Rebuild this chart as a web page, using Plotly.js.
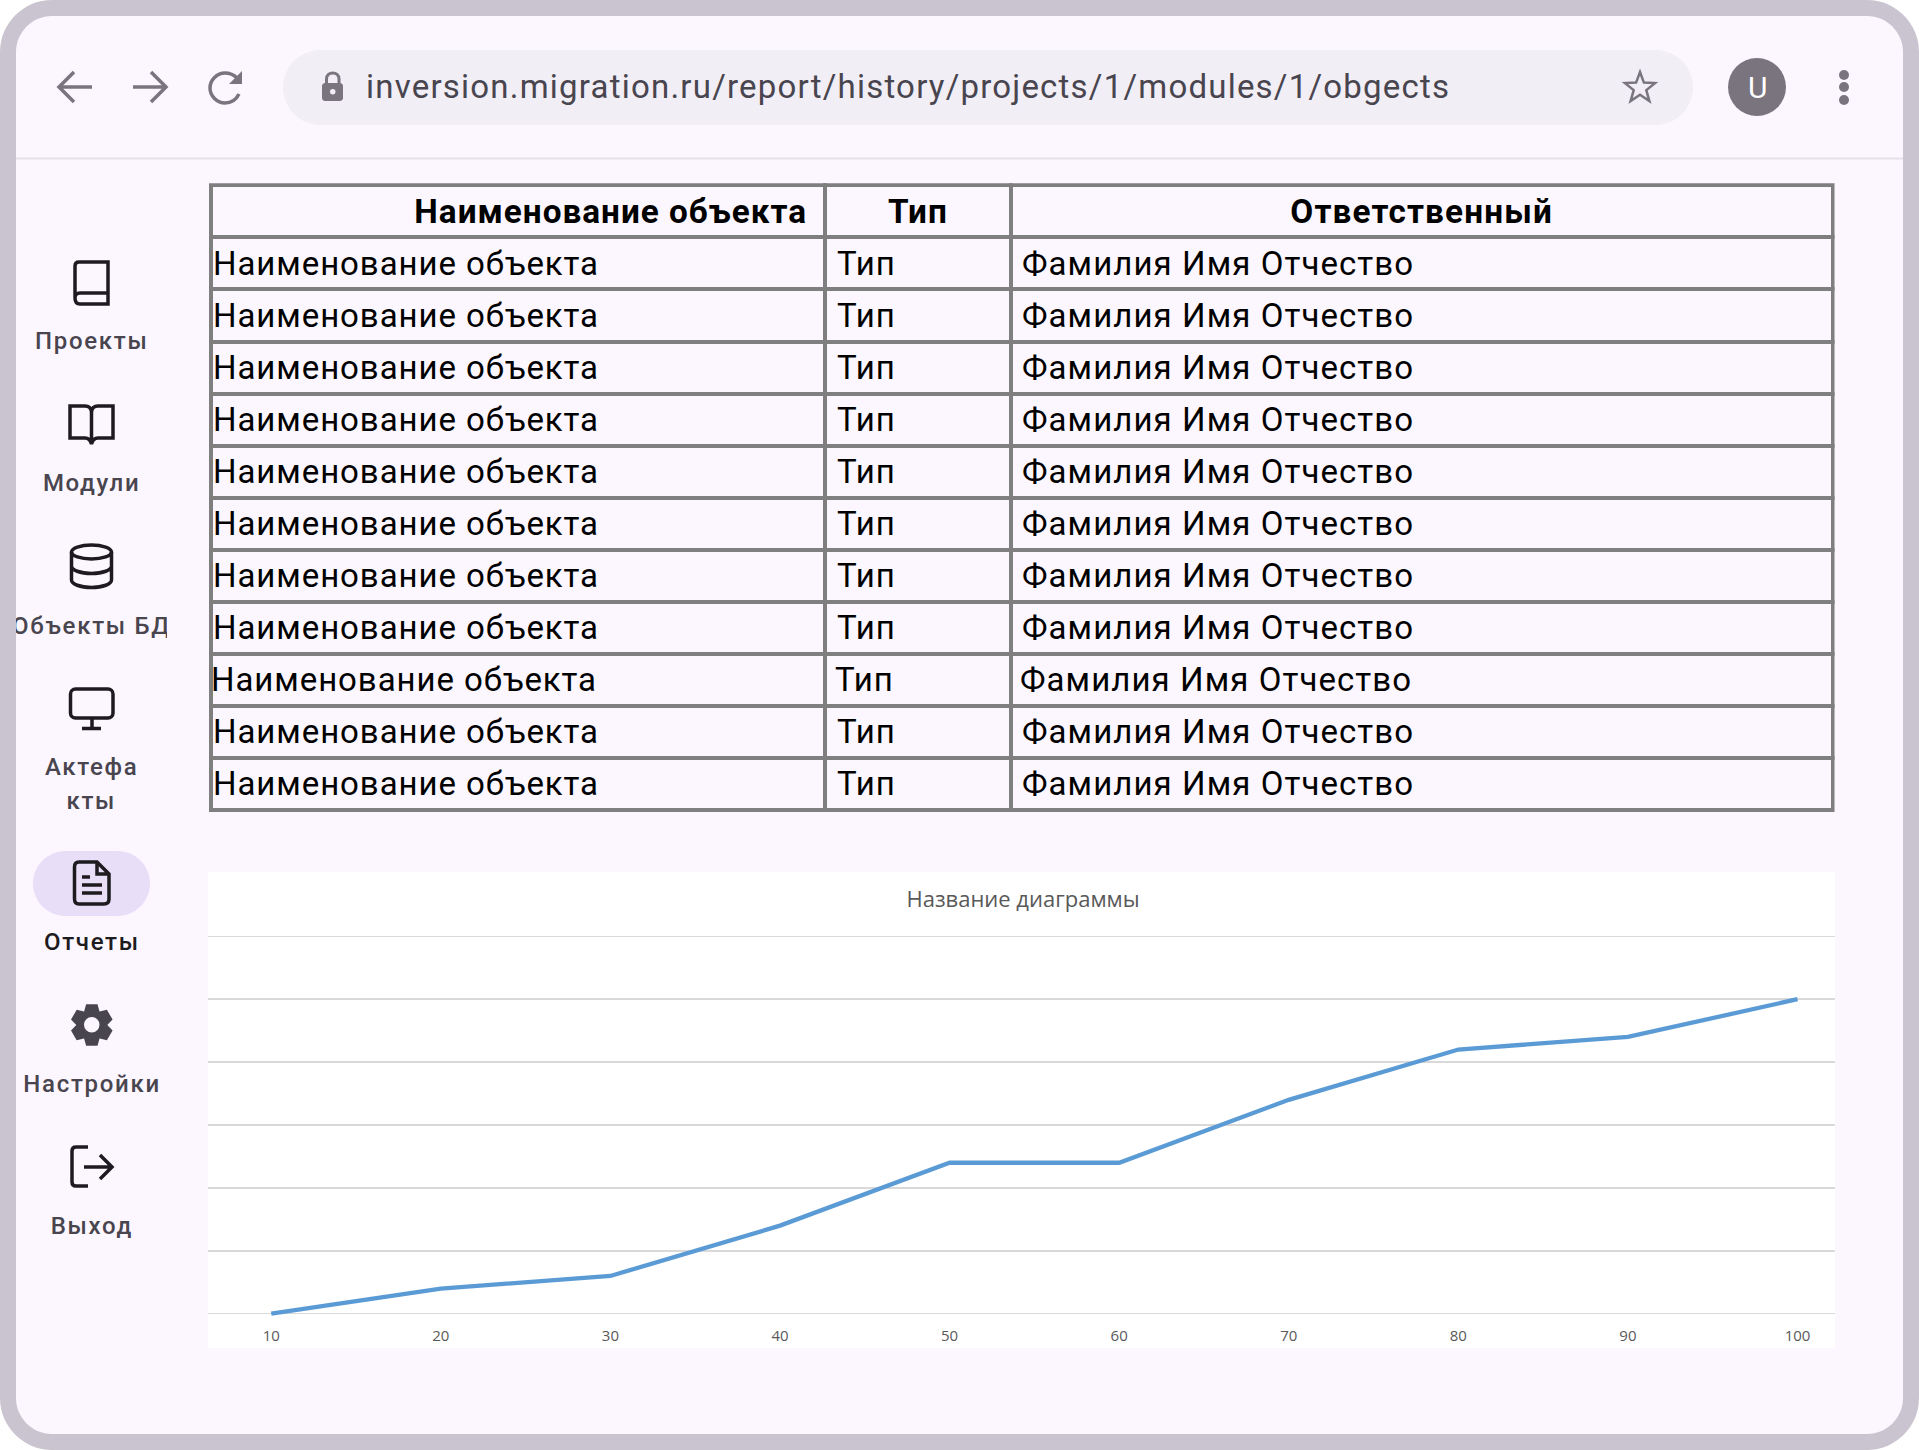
<!DOCTYPE html>
<html><head><meta charset="utf-8">
<script src="https://cdn.plot.ly/plotly-3.0.1.min.js"></script>
<style>
html,body{margin:0;padding:0;background:#fff;overflow:hidden}
#p{width:1919px;height:1450px}
.table text{letter-spacing:.93px}
.annotation text{letter-spacing:1.7px}
.annotation[data-index="8"] text{letter-spacing:1.21px}
.annotation[data-index="9"] text{letter-spacing:0}
</style></head><body><div id="p"></div>
<script>
// ---- chart data ----
const chartTitle = 'Название диаграммы';
const xValues = [10,20,30,40,50,60,70,80,90,100];
const yValues = [0,4,6,14,24,24,34,42,44,50];
const yTicks  = [0,10,20,30,40,50,60];
// ---- table data ----
const headers = ['<b>Наименование объекта</b>','<b>Тип</b>','<b>Ответственный</b>'];
const objectNames = ['Наименование объекта','Наименование объекта','Наименование объекта','Наименование объекта','Наименование объекта','Наименование объекта','Наименование объекта','Наименование объекта','Наименование объекта','Наименование объекта','Наименование объекта'];
const objectTypes = ['Тип','Тип','Тип','Тип','Тип','Тип','Тип','Тип','Тип','Тип','Тип'];
const ownerNames = ['Фамилия Имя Отчество','Фамилия Имя Отчество','Фамилия Имя Отчество','Фамилия Имя Отчество','Фамилия Имя Отчество','Фамилия Имя Отчество','Фамилия Имя Отчество','Фамилия Имя Отчество','Фамилия Имя Отчество','Фамилия Имя Отчество','Фамилия Имя Отчество'];
// ---- app chrome text ----
const urlText = 'inversion.migration.ru/report/history/projects/1/modules/1/obgects';
const navLabels = ['Проекты','Модули','Объекты БД','Актефа','кты','Отчеты','Настройки','Выход'];

const W=1919,H=1450;
const fx=x=>x/W, fy=y=>1-y/H;
const conv=p=>p.replace(/(-?\d+\.?\d*)[ ,]+(-?\d+\.?\d*)/g,(m,a,b)=>fx(+a)+','+fy(+b));
const SURF='#FCF7FE',FRAME='#CAC4D0',GREY='#79747E',INK='#1D1B20',NAV='#49454F',BAR='#F1EEF6';
const none='rgba(0,0,0,0)';
function path(d,color,width,fill){return {type:'path',xref:'paper',yref:'paper',layer:'below',path:conv(d),
  line:{color:color||none,width:width||0},fillcolor:fill||none};}
function rrect(x0,y0,x1,y1,r){const k=r*0.45;
  return `M${x0+r} ${y0} L${x1-r} ${y0} C${x1-k} ${y0} ${x1} ${y0+k} ${x1} ${y0+r} L${x1} ${y1-r} C${x1} ${y1-k} ${x1-k} ${y1} ${x1-r} ${y1} L${x0+r} ${y1} C${x0+k} ${y1} ${x0} ${y1-k} ${x0} ${y1-r} L${x0} ${y0+r} C${x0} ${y0+k} ${x0+k} ${y0} ${x0+r} ${y0} Z`;}
function oval(x0,y0,x1,y1,color,width,fill){return {type:'circle',xref:'paper',yref:'paper',layer:'below',
  x0:fx(x0),x1:fx(x1),y0:fy(y1),y1:fy(y0),line:{color:color||none,width:width||0},fillcolor:fill||none};}
function gearPath(cx,cy){let pts=[];const R=21.5,r=15.5;
  for(let i=0;i<6;i++){const a=-Math.PI/2+i*Math.PI/3,s=0.27,t=0.52;
    [[r,-t],[R,-s],[R,s],[r,t]].forEach(q=>pts.push([cx+q[0]*Math.cos(a+q[1]),cy+q[0]*Math.sin(a+q[1])]));}
  return 'M'+pts.map(q=>q[0].toFixed(1)+' '+q[1].toFixed(1)).join(' L')+' Z';}

const shapes=[
  path(rrect(0,0,1919,1450,52),null,0,FRAME),
  path(rrect(16,16,1903,1434,36),null,0,SURF),
  path('M16 158.5 L1903 158.5','#E6E0E9',2),
  path(rrect(283,50,1693,125,37.5),null,0,BAR),
  path('M92 87 L60 87 M74 72 L59 87 L74 102',GREY,3.5),
  path('M133 87 L165 87 M151 72 L166 87 L151 102',GREY,3.5),
  path('M239 94 C236 100 231 103 225 103 C217 103 210 96 210 88 C210 80 217 73 225 73 C230 73 234 75 237 78',GREY,3.5),
  path('M242 71 L242 84 L229 84 Z',null,0,GREY),
  path(rrect(322,83,343,101,3),null,0,GREY),
  path('M326.5 83 L326.5 79 C326.5 71 339 71 339 79 L339 83',GREY,3),
  oval(330,89,335.5,94.5,null,0,BAR),
  path('M1640 72 L1643.9 82.6 L1655 83.1 L1646.3 90.1 L1649.4 101.1 L1640 94.8 L1630.6 101.1 L1633.7 90.1 L1625 83.1 L1636.1 82.6 Z',GREY,2.5),
  oval(1728,58,1786,116,null,0,GREY),
  oval(1839,70,1849,80,null,0,GREY),oval(1839,82,1849,92,null,0,GREY),oval(1839,95,1849,105,null,0,GREY),
  path('M75 297 L75 266 Q75 262 79 262 L108 262 L108 304 L80 304 Q75 304 75 298 Q75 293 80 293 L108 293',INK,3.5),
  path('M91.5 412 L91.5 442 M91.5 412 Q91 406 85 406 L70 406 L70 438 L85 438 Q90 438 91.5 444 Q93 438 98 438 L113 438 L113 406 L98 406 Q92 406 91.5 412 Z',INK,3.5),
  oval(71.5,545,111.5,559,INK,3.5),
  path('M71.5 552 L71.5 580 C71.5 584 80 587.5 91.5 587.5 C103 587.5 111.5 584 111.5 580 L111.5 552 M71.5 566 C71.5 570 80 573.5 91.5 573.5 C103 573.5 111.5 570 111.5 566',INK,3.5),
  path(rrect(70.5,689,113,718,5),INK,3.5),
  path('M92 718 L92 728 M82 728.5 L101 728.5',INK,3.5),
  path(rrect(33,851,150,916,32.5),null,0,'#E8DEF8'),
  path('M79 862 L97 862 L109 874 L109 899 Q109 904 104 904 L79 904 Q74.5 904 74.5 899 L74.5 867 Q74.5 862 79 862 Z M97 862 L97 874 L109 874 M82 877 L90 877 M82 885 L102 885 M82 893 L102 893',INK,3.5),
  path(gearPath(91.8,1025),null,0,NAV),
  oval(84,1017,99.5,1032.5,null,0,SURF),
  path('M88 1147 L76 1147 Q72 1147 72 1151 L72 1182 Q72 1186 76 1186 L88 1186 M84 1167 L111 1167 M100 1155 L112 1167 L100 1179',INK,3.5),
  {type:'rect',xref:'paper',yref:'paper',layer:'below',x0:fx(208),x1:fx(1835),y0:fy(1348),y1:fy(872),fillcolor:'#FFFFFF',line:{width:0}}
];

function note(text,x,y,o){return Object.assign({text:text,xref:'paper',yref:'paper',x:fx(x),y:fy(y),showarrow:false,
  xanchor:'center',yanchor:'middle',font:{family:'Roboto',size:24,color:NAV,weight:500}},o||{});}
const navY=[341.5,483.5,625.5,766.5,800.5,941.5,1083.5,1225.5];
const annotations=navLabels.map((t,i)=>{
  const o={};
  if(i===2){o.width=151;o.height=34;o.align='center';}
  if(i===5){o.font={family:'Roboto',size:24,color:INK,weight:500};}
  return note(t,91.8,navY[i],o);
});
annotations.push(note(urlText,404,86,{xanchor:'left',font:{family:'Roboto',size:33,color:NAV}}));
annotations.push(note('U',1757,87,{font:{family:'Roboto',size:30,color:'#FFFFFF'}}));

const tableRows=[objectNames,objectTypes,ownerNames];
const lineStyle={color:'#7F7F7F',width:4};
const data=[
 {type:'table',domain:{x:[fx(210.5),fx(1832.5)],y:[fy(816),fy(185.3)]},
  columnwidth:[614.5,186,821.5],
  header:{values:headers,height:52.06,align:['right','center','center'],
    font:{family:'Roboto',size:30,color:'#000'},line:lineStyle,fill:{color:SURF}},
  cells:{values:tableRows,height:52.1,align:'left',
    font:{family:'Roboto',size:33,color:'#000'},line:lineStyle,fill:{color:SURF}}},
 {type:'scatter',mode:'lines',x:xValues,y:yValues,line:{color:'#5B9BD5',width:4.3},cliponaxis:false,showlegend:false,hoverinfo:'skip'}
];
const layout={width:W,height:H,autosize:false,margin:{l:0,r:0,t:0,b:0},
  paper_bgcolor:'#FFFFFF',plot_bgcolor:'rgba(0,0,0,0)',showlegend:false,
  title:{text:chartTitle,x:fx(1023),xanchor:'center',y:fy(899.5),yanchor:'middle',font:{family:'Open Sans',size:22,color:'#595959'}},
  xaxis:{domain:[fx(208),fx(1835)],range:[6.27,102.21],tickvals:xValues,ticktext:xValues.map(String),
    showgrid:false,zeroline:false,showline:false,ticks:'',ticklabelstandoff:8,tickfont:{family:'Open Sans',size:15,color:'#595959'}},
  yaxis:{domain:[fy(1316.85),fy(933.15)],range:[-0.5,60.5],tickvals:yTicks,showticklabels:false,zeroline:false,
    showgrid:true,gridcolor:'#D9D9D9',gridwidth:1.5,showline:false,ticks:''},
  shapes:shapes,annotations:annotations};
// Roboto cell text sits by the table's fixed padding; settle it onto the reference's text columns.
function settleTableText(){
  const colX=[213,837,1022], headCx=[0,918,1421.6], lines=[825,1011];
  const rowTop=237.2, rowH=52.06;
  document.querySelectorAll('#p .table text').forEach(el=>{
    let r=el.getBoundingClientRect(); if(!r.width) return;
    const head=(r.top+r.bottom)/2<rowTop;
    const col0=((r.left+r.right)/2<lines[0])?0:((r.left+r.right)/2<lines[1])?1:2;
    if(head){el.style.fontSize='33.3px';el.style.letterSpacing=col0===0?'1px':'1.15px';}
    else if(col0===2){el.style.letterSpacing='1.08px';}
    r=el.getBoundingClientRect();
    const cy=(r.top+r.bottom)/2, cx=(r.left+r.right)/2;
    let dx=0,dy=0;
    if(head){ dy=211.3-cy; dx=col0===0?807-r.right:headCx[col0]-cx; }
    else{
      const i=Math.floor((cy-rowTop)/rowH);
      dy=rowTop+rowH*(i+.5)-cy;
      dx=colX[col0]-r.left-(i===8?2:0);
    }
    el.setAttribute('transform',(el.getAttribute('transform')||'')+` translate(${dx},${dy})`);
  });
}
Plotly.newPlot('p',data,layout,{displayModeBar:false,staticPlot:true}).then(settleTableText);
</script></body></html>
